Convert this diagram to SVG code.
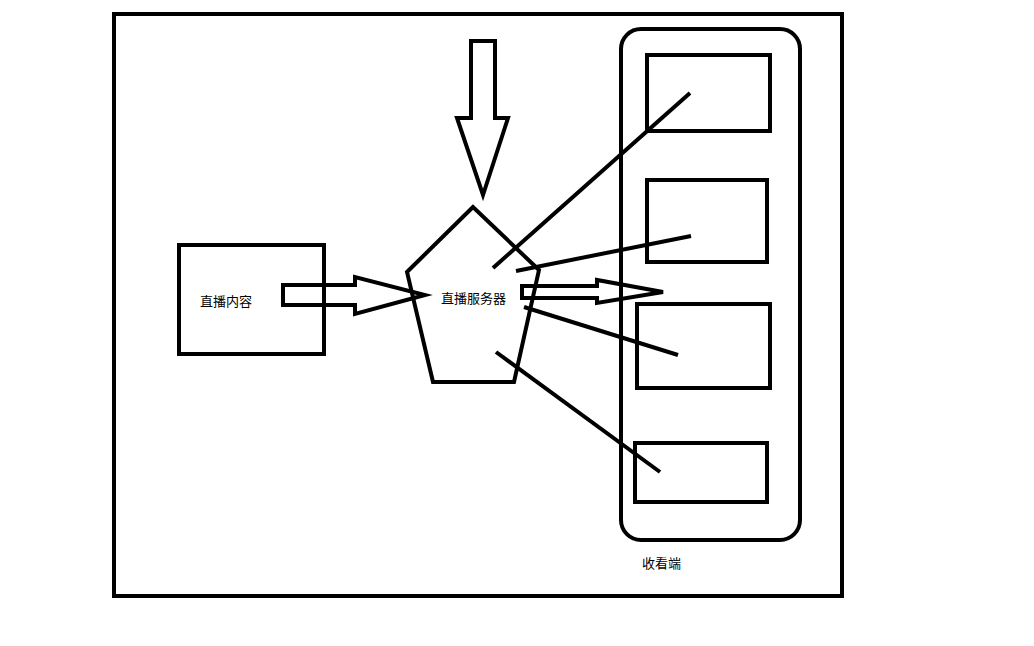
<svg xmlns="http://www.w3.org/2000/svg" width="1034" height="646" viewBox="0 0 1034 646">
<style>
.s{fill:none;stroke:#000;stroke-width:4;stroke-linejoin:miter}
.t{font-family:"Liberation Sans","Noto Sans CJK SC",sans-serif;font-size:13px;fill:#000}
</style>
<rect width="1034" height="646" fill="#fff"/>
<rect class="s" x="114" y="14" width="728" height="582"/>
<g id="content"><rect class="s" x="179" y="245" width="145" height="109"/><text class="t" x="200" y="306">直播内容</text></g>
<g id="server"><polygon class="s" points="473,207 407,272 433,382 514,382 539,270"/><text class="t" x="441" y="303">直播服务器</text></g>
<g id="viewers"><rect class="s" x="621" y="29" width="179" height="511" rx="20"/>
<rect class="s" x="647" y="55" width="123" height="76"/>
<rect class="s" x="647" y="180" width="120" height="82"/>
<rect class="s" x="637" y="304" width="133" height="84"/>
<rect class="s" x="635" y="443" width="132" height="59"/>
<text class="t" x="642" y="568">收看端</text></g>
<g id="connectors">
<polygon class="s" points="283,285 355,285 355,277 425,295 355,314 355,305 283,305"/>
<polygon class="s" points="522,286 597,286 597,280 663,292 597,303 597,298 522,298"/>
<polygon class="s" points="471,41 495,41 495,118 508,118 483,195 457,118 471,118"/>
<line class="s" x1="493" y1="268" x2="690" y2="93"/>
<line class="s" x1="516" y1="271" x2="691" y2="236"/>
<line class="s" x1="524" y1="307" x2="678" y2="355"/>
<line class="s" x1="496" y1="352" x2="660" y2="472"/>
</g>
</svg>
